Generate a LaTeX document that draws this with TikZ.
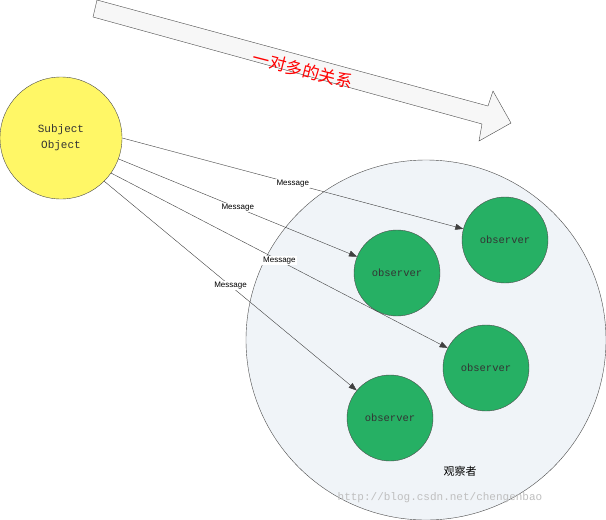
\documentclass[tikz,border=0pt]{standalone}
\usepackage{fontspec}
\newfontfamily\cjk{Noto Sans CJK SC}
\newfontfamily\msg{Liberation Sans}
\newfontfamily\mono{Liberation Mono}
\usetikzlibrary{arrows.meta}
\definecolor{obsgreen}{RGB}{38,176,100}
\definecolor{bigfill}{RGB}{240,244,248}
\begin{document}
\begin{tikzpicture}[x=1pt,y=-1pt,
  obs/.style={circle,draw=black!70,fill=obsgreen,minimum size=86pt,inner sep=0pt,text=black!80,font=\mono\fontsize{10.5}{12}\selectfont},
  msgline/.style={draw=black!75,-{Triangle[length=8pt,width=6pt]}},
  lbl/.style={fill=white,inner sep=1pt,font=\msg\fontsize{8}{9}\selectfont}]
\useasboundingbox (0,0) rectangle (606,520);
\fill[white] (0,0) rectangle (606,520);
\draw[draw=black!70,fill=black!3] (97,0) -- (488,106) -- (493,91) -- (511,123) -- (479,141) -- (482,124) -- (93,17) -- cycle;
\node[text=red,rotate=-14.4,font=\cjk\fontsize{17}{20}\selectfont] (t) at (303,70) {一对多的关系};
\node[circle,draw=black!70,fill=bigfill,minimum size=360pt,inner sep=0pt] (big) at (426,340) {};
\node[circle,draw=black!70,fill=yellow!60,minimum size=122pt,inner sep=0pt,align=center,text=black!80,font=\mono\fontsize{11}{16}\selectfont] (s) at (61,138) {Subject\\Object};
\node[obs] (o1) at (505,240) {observer};
\node[obs] (o2) at (397,273) {observer};
\node[obs] (o3) at (486,368) {observer};
\node[obs] (o4) at (390,418) {observer};
\draw[msgline] (s.0) -- node[lbl,pos=0.5] {Message} (o1);
\draw[msgline] (s.-20) -- node[lbl,pos=0.5] {Message} (o2);
\draw[msgline] (s.-35) -- node[lbl,pos=0.5] {Message} (o3);
\draw[msgline] (s.-45) -- node[lbl,pos=0.5] {Message} (o4);
\node[font=\cjk\fontsize{11}{12}\selectfont] (l) at (460,471) {观察者};
\node[text=black!25,font=\mono\fontsize{11}{12}\selectfont] (w) at (440,498) {http://blog.csdn.net/chengenbao};
\end{tikzpicture}
\end{document}
